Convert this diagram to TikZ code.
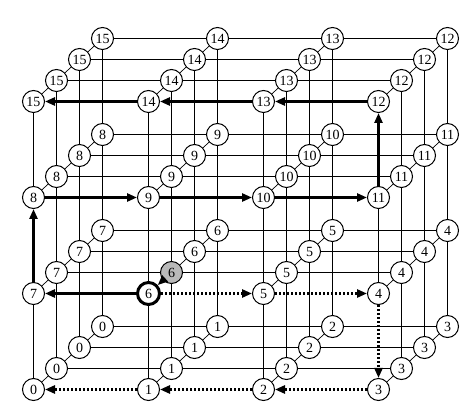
\documentclass[tikz,border=0pt]{standalone}
\usepackage{fontspec}
\setmainfont{Liberation Serif}
\usetikzlibrary{arrows.meta}
\begin{document}
\begin{tikzpicture}[x=1pt,y=1pt,
  nd/.style={circle,draw,line width=1pt,fill=white,minimum size=22pt,inner sep=0pt,
    font=\fontsize{14}{14}\selectfont},
  plainnd/.style={},
  boldnd/.style={line width=3pt},
  graynd/.style={fill=gray!55},
  gridln/.style={line width=1.4pt},
  zln/.style={line width=0.7pt},
  pathln/.style={line width=2.5pt,-{Triangle[length=10pt,width=8pt]}},
  dpathln/.style={pathln,dash pattern=on 2pt off 2pt}]
\useasboundingbox (0,0) rectangle (474,415);
% nodes, back to front
\foreach \d in {3,2,1,0}{
  \foreach \r in {0,...,3}{
    \foreach \c in {0,...,3}{
      \pgfmathtruncatemacro\lab{4*\r+(mod(\r,2)==0 ? \c : 3-\c)}
      \pgfmathtruncatemacro\key{100*\d+10*\r+\c}
      \ifnum\key=11 \def\st{boldnd}\else\ifnum\key=111 \def\st{graynd}\else\def\st{plainnd}\fi\fi
      \node[nd,\st] (n\d\r\c) at ({33.5+115*\c+23*\d},{25.5+96*\r+21*\d}) {\lab};
    }
  }
}
% back-layer horizontal and vertical lines
\foreach \d in {1,2,3}{
  \foreach \r in {0,...,3}{
    \foreach \c/\cn in {0/1,1/2,2/3}{
      \draw[gridln] (n\d\r\c) -- (n\d\r\cn);
    }
  }
  \foreach \c in {0,...,3}{
    \foreach \r/\rn in {0/1,1/2,2/3}{
      \draw[gridln] (n\d\r\c) -- (n\d\rn\c);
    }
  }
}
% front-layer thin vertical lines
\draw[gridln] (n000) -- (n010);
\draw[gridln] (n020) -- (n030);
\foreach \c in {1,2}{
  \draw[gridln] (n00\c) -- (n01\c);
  \draw[gridln] (n01\c) -- (n02\c);
  \draw[gridln] (n02\c) -- (n03\c);
}
\draw[gridln] (n013) -- (n023);
% depth lines
\foreach \d/\dn in {0/1,1/2,2/3}{
  \foreach \r in {0,...,3}{
    \foreach \c in {0,...,3}{
      \pgfmathtruncatemacro\key{100*\d+10*\r+\c}
      \ifnum\key=11 \else \draw[zln] (n\d\r\c) -- (n\dn\r\c);\fi
    }
  }
}
% solid route
\draw[pathln] (n111) -- (n011);
\draw[pathln] (n011) -- (n010);
\draw[pathln] (n010) -- (n020);
\draw[pathln] (n020) -- (n021);
\draw[pathln] (n021) -- (n022);
\draw[pathln] (n022) -- (n023);
\draw[pathln] (n023) -- (n033);
\draw[pathln] (n033) -- (n032);
\draw[pathln] (n032) -- (n031);
\draw[pathln] (n031) -- (n030);
% dotted route
\draw[dpathln] (n011) -- (n012);
\draw[dpathln] (n012) -- (n013);
\draw[dpathln] (n013) -- (n003);
\draw[dpathln] (n003) -- (n002);
\draw[dpathln] (n002) -- (n001);
\draw[dpathln] (n001) -- (n000);
\end{tikzpicture}
\end{document}
